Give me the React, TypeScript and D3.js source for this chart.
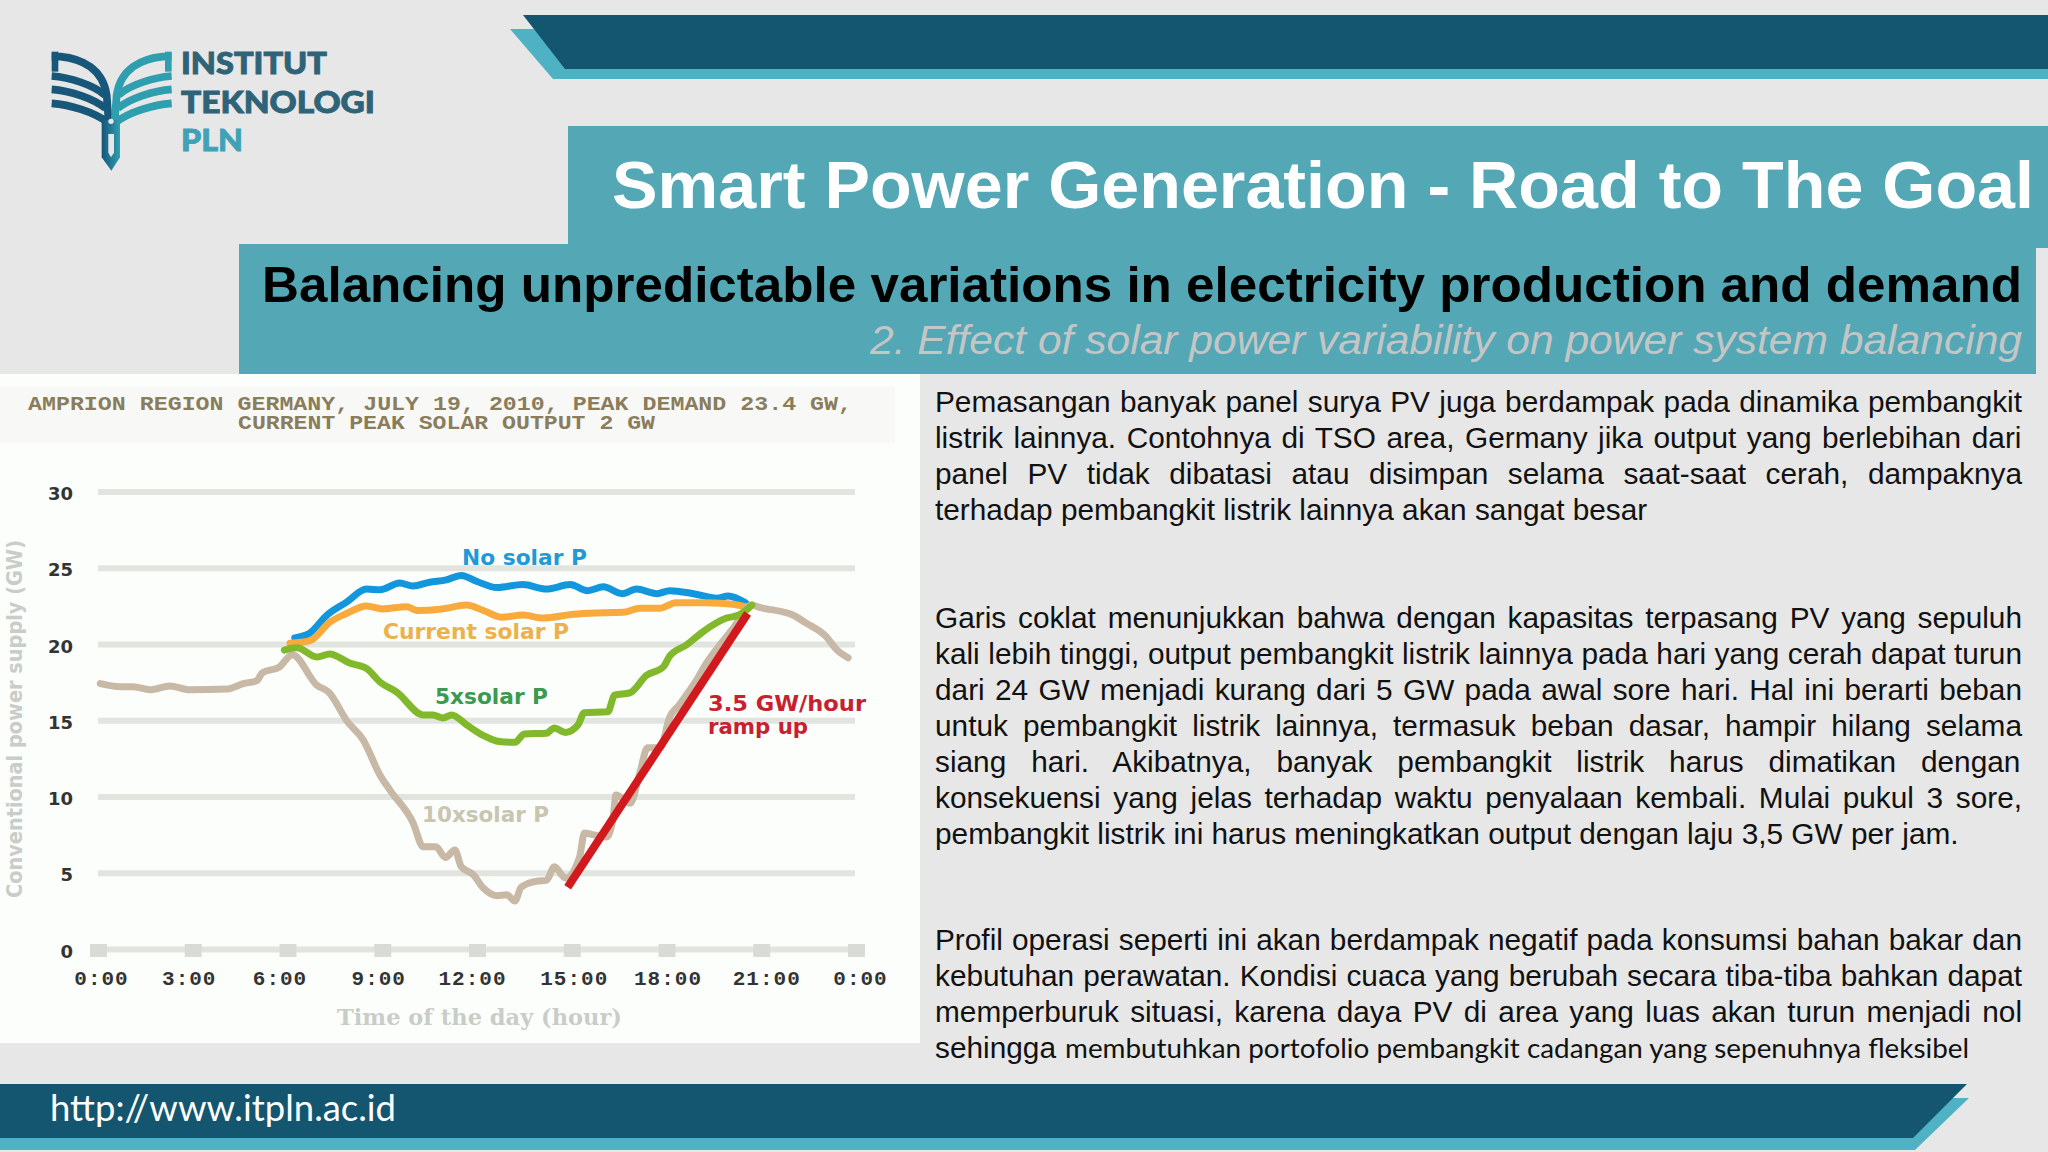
import { useEffect, useRef } from 'react';
import * as d3 from 'd3';

type Pt = [number, number]; // [hour of day, GW]

const yTicks = [0, 5, 10, 15, 20, 25, 30];
const xTickHours = [0, 3, 6, 9, 12, 15, 18, 21, 24];
const xTickLabels = ['0:00', '3:00', '6:00', '9:00', '12:00', '15:00', '18:00', '21:00', '0:00'];

const noSolar: Pt[] = [
  [6.23, 20.4], [6.7, 20.7], [7.25, 21.9], [7.87, 22.75], [8.5, 23.6], [8.93, 23.55], [9.55, 24.0],
  [9.97, 23.8], [10.5, 24.05], [11.03, 24.2], [11.5, 24.5], [12, 24.1], [12.63, 23.7], [13.45, 23.9],
  [14.2, 23.6], [14.95, 23.9], [15.5, 23.5], [16, 23.75], [16.6, 23.3], [17.05, 23.6], [17.7, 23.3],
  [18.1, 23.5], [18.85, 23.3], [19.6, 23.0], [19.95, 23.15], [20.5, 22.7],
];

const currentSolar: Pt[] = [
  [6.08, 20.05], [6.7, 20.2], [7.35, 21.45], [7.87, 22.0], [8.5, 22.5], [9, 22.3], [9.77, 22.45],
  [10.1, 22.2], [10.9, 22.3], [11.67, 22.55], [12.2, 22.2], [12.8, 21.75], [13.45, 21.9], [14.1, 21.7],
  [15.05, 21.95], [16, 22.05], [16.7, 22.1], [17.15, 22.35], [17.8, 22.35], [18.3, 22.7], [19.27, 22.7],
  [20.1, 22.6], [20.57, 22.4],
];

const fiveXSolar: Pt[] = [
  [5.9, 19.6], [6.3, 19.75], [6.93, 19.15], [7.34, 19.35], [7.97, 18.75], [8.5, 18.4], [8.93, 17.5],
  [9.46, 16.85], [10.3, 15.35], [10.6, 15.35], [10.93, 15.15], [11.2, 15.35], [11.67, 14.7], [12.2, 14.0],
  [12.7, 13.6], [13.2, 13.55], [13.5, 14.1], [14.2, 14.15], [14.45, 14.5], [14.8, 14.2], [15.2, 14.7],
  [15.4, 15.5], [16.14, 15.55], [16.36, 16.65], [16.84, 16.8], [17.37, 17.95], [17.9, 18.5], [18.1, 19.2],
  [18.64, 19.95], [19.15, 20.8], [19.9, 21.7], [20.3, 21.9], [20.7, 22.55],
];

const tenXSolar: Pt[] = [
  [0.07, 17.4], [0.7, 17.2], [1.1, 17.2], [1.65, 17.0], [2.28, 17.25], [2.9, 17.0], [4.1, 17.05],
  [4.6, 17.4], [5.03, 17.6], [5.2, 18.1], [5.75, 18.5], [6.15, 19.3], [6.93, 17.3], [7.3, 16.85],
  [7.9, 14.9], [8.4, 13.7], [8.93, 11.4], [9.25, 10.4], [9.97, 8.3], [10.3, 6.7], [10.7, 6.7], [11, 6.0],
  [11.3, 6.5], [11.5, 5.4], [11.87, 4.9], [12.2, 4.0], [12.63, 3.5], [12.95, 3.55], [13.2, 3.15],
  [13.4, 4.05], [13.9, 4.45], [14.2, 4.5], [14.45, 5.4], [14.8, 4.65], [15.25, 6.05], [15.4, 7.6],
  [15.65, 7.5], [16.1, 7.35], [16.3, 8.45], [16.4, 10.1], [16.85, 9.55], [17.15, 11.5], [17.4, 13.2],
  [17.8, 13.2], [18.1, 15.2], [18.4, 16], [19, 17.8], [19.25, 18.7], [19.6, 19.7], [20.1, 21], [20.7, 22.55],
  [20.95, 22.4], [22, 21.9], [22.4, 21.4], [23.05, 20.5], [23.4, 19.6], [23.75, 19.1],
];

const rampUp: Pt[] = [[14.87, 4.05], [20.57, 22]];

const para1 = [
  'Pemasangan banyak panel surya PV juga berdampak pada dinamika pembangkit',
  'listrik lainnya. Contohnya di TSO area, Germany jika output yang berlebihan dari',
  'panel PV tidak dibatasi atau disimpan selama saat-saat cerah, dampaknya',
  'terhadap pembangkit listrik lainnya akan sangat besar',
];
const para2 = [
  'Garis coklat menunjukkan bahwa dengan kapasitas terpasang PV yang sepuluh',
  'kali lebih tinggi, output pembangkit listrik lainnya pada hari yang cerah dapat turun',
  'dari 24 GW menjadi kurang dari 5 GW pada awal sore hari. Hal ini berarti beban',
  'untuk pembangkit listrik lainnya, termasuk beban dasar, hampir hilang selama',
  'siang hari. Akibatnya, banyak pembangkit listrik harus dimatikan dengan',
  'konsekuensi yang jelas terhadap waktu penyalaan kembali. Mulai pukul 3 sore,',
  'pembangkit listrik ini harus meningkatkan output dengan laju 3,5 GW per jam.',
];
const para3 = [
  'Profil operasi seperti ini akan berdampak negatif pada konsumsi bahan bakar dan',
  'kebutuhan perawatan. Kondisi cuaca yang berubah secara tiba-tiba bahkan dapat',
  'memperburuk situasi, karena daya PV di area yang luas akan turun menjadi nol',
];

const DARK = '#14556f';
const LIGHT = '#4fb2c4';
const TEAL = '#54a7b5';
const BODY_FONT = '"Liberation Sans", Arial, sans-serif';
const BODY_SIZE = 29.8;
const SLAB = '"DejaVu Serif", serif';
const BOLD_SANS = '"DejaVu Sans", sans-serif';
const MONO = '"Liberation Mono", monospace';

// justify a line by stretching only its word gaps, like the slide does
const ctx = document.createElement('canvas').getContext('2d')!;
function gapFor(line: string, width: number) {
  ctx.font = `${BODY_SIZE}px "Liberation Sans"`;
  const natural = ctx.measureText(line).width;
  const gaps = line.split(' ').length - 1;
  return (width - natural) / gaps;
}

function BodyLines({ lines, y0, lastFlush }: { lines: string[]; y0: number; lastFlush: boolean }) {
  return (
    <g fontFamily={BODY_FONT} fontSize={BODY_SIZE} fill="#111">
      {lines.map((line, i) => {
        const justify = lastFlush || i < lines.length - 1;
        return (
          <text key={i} x={935} y={y0 + i * 36} wordSpacing={justify ? gapFor(line, 1087) : 0}>
            {line}
          </text>
        );
      })}
    </g>
  );
}

function Wing({ color, flip }: { color: string; flip: boolean }) {
  const ribs = [
    'M35 50 L62 50 C125 56 188 86 200 165 L206 245',
    'M35 108 C90 112 160 135 195 165',
    'M35 148 C90 152 160 175 197 205',
    'M35 190 C90 194 160 215 205 248',
  ];
  return (
    <g stroke={color} fill="none" strokeWidth={23} transform={flip ? 'translate(430,0) scale(-1,1)' : undefined}>
      {ribs.map((d) => <path key={d} d={d} />)}
      <path d="M45 35 L45 95" strokeWidth={20} />
    </g>
  );
}

function Logo() {
  return (
    <g transform="translate(40,40) scale(0.3333)">
      <defs>
        <linearGradient id="stem" x1="0" x2="1" y1="0" y2="0">
          <stop offset="0" stopColor="#16557a" />
          <stop offset="1" stopColor="#2f9fb0" />
        </linearGradient>
      </defs>
      <Wing color="#17587a" flip={false} />
      <Wing color="#2f9fb0" flip={true} />
      <path d="M185 240 L240 240 L240 352 L214 392 L185 352 Z" fill="url(#stem)" />
      <path d="M205 282 L222 282 L222 338 L213 352 L205 338 Z" fill="#e7e7e7" />
      <circle cx={213} cy={244} r={8} fill="#e7e7e7" />
    </g>
  );
}

function Chart() {
  const ref = useRef<SVGGElement>(null);

  useEffect(() => {
    if (!ref.current) return;
    const g = d3.select(ref.current);
    g.selectAll('*').remove();

    const x = d3.scaleLinear().domain([0, 24]).range([98, 856]);
    const y = d3.scaleLinear().domain([0, 30]).range([949, 491.5]);

    // Gridlines and y tick labels
    const yAxis = g
      .append('g')
      .attr('transform', 'translate(98,0)')
      .call(d3.axisLeft(y).tickValues(yTicks).tickSize(-757).tickPadding(25));
    yAxis.select('.domain').remove();
    yAxis.selectAll('line').attr('stroke', '#e2e4e0').attr('stroke-width', 6);
    yAxis
      .selectAll('text')
      .attr('fill', '#333')
      .attr('font-family', BOLD_SANS)
      .attr('font-weight', 'bold')
      .attr('font-size', 18)
      .attr('dy', 8);

    // Square tick marks on the baseline
    g.selectAll('.tick-square')
      .data(xTickHours)
      .enter()
      .append('rect')
      .attr('class', 'tick-square')
      .attr('x', (d) => x(d) - 8)
      .attr('y', y(0) - 5)
      .attr('width', 17)
      .attr('height', 13)
      .attr('fill', '#d9dbd7');

    // X tick labels, the source image has them slightly off the ticks
    const nudge = [3, -4, -8, -4, -5, 2, 1, 5, 4];
    const xAxis = g
      .append('g')
      .attr('transform', 'translate(0,985)')
      .call(
        d3
          .axisBottom(x)
          .tickValues(xTickHours)
          .tickSize(0)
          .tickPadding(0)
          .tickFormat((d) => xTickLabels[xTickHours.indexOf(d as number)])
      );
    xAxis.select('.domain').remove();
    xAxis
      .selectAll('text')
      .attr('fill', '#333')
      .attr('font-family', MONO)
      .attr('font-weight', 'bold')
      .attr('font-size', 21)
      .attr('letter-spacing', 1)
      .attr('y', 0)
      .attr('dy', 0)
      .attr('dx', (_, i) => nudge[i]);

    const line = d3
      .line<Pt>()
      .x((d) => x(d[0]))
      .y((d) => y(d[1]))
      .curve(d3.curveMonotoneX);

    // Series, back to front
    const series: [Pt[], string, number][] = [
      [noSolar, '#1296dc', 7],
      [currentSolar, '#f8ab3c', 7],
      [tenXSolar, '#c8b8a6', 7],
      [fiveXSolar, '#82b82c', 7],
    ];
    series.forEach(([pts, color, w]) => {
      g.append('path')
        .datum(pts)
        .attr('d', line)
        .attr('fill', 'none')
        .attr('stroke', color)
        .attr('stroke-width', w)
        .attr('stroke-linejoin', 'round')
        .attr('stroke-linecap', 'round');
    });
    g.append('path')
      .datum(rampUp)
      .attr('d', line)
      .attr('fill', 'none')
      .attr('stroke', '#d2191e')
      .attr('stroke-width', 8);
  }, []);

  return (
    <g>
      <rect x={0} y={374} width={920} height={669} fill="#fcfefb" />
      <rect x={0} y={387} width={895} height={56} fill="#f8f9f6" />
      <g fontFamily={MONO} fontWeight="bold" fontSize={20} fill="#8a7d5c">
        <text x={28} y={410} textLength={824} lengthAdjust="spacingAndGlyphs">
          AMPRION REGION GERMANY, JULY 19, 2010, PEAK DEMAND 23.4 GW,
        </text>
        <text x={238} y={429} textLength={417} lengthAdjust="spacingAndGlyphs">
          CURRENT PEAK SOLAR OUTPUT 2 GW
        </text>
      </g>
      <g ref={ref} />
      <g fontFamily={BOLD_SANS} fontWeight="bold" fontSize={22}>
        <text x={462} y={565} fill="#1e9ad6" textLength={125} lengthAdjust="spacingAndGlyphs">No solar P</text>
        <text x={383} y={639} fill="#eeb04a" textLength={186} lengthAdjust="spacingAndGlyphs">Current solar P</text>
        <text x={435} y={704} fill="#3a9a50" textLength={113} lengthAdjust="spacingAndGlyphs">5xsolar P</text>
        <text x={422} y={822} fill="#c9c5b0" textLength={127} lengthAdjust="spacingAndGlyphs">10xsolar P</text>
        <text x={708} y={711} fill="#c8202e" textLength={158} lengthAdjust="spacingAndGlyphs">3.5 GW/hour</text>
        <text x={708} y={734} fill="#c8202e" textLength={100} lengthAdjust="spacingAndGlyphs">ramp up</text>
      </g>
      <g fontWeight="bold" fill="#c9cdc9">
        <text x={337} y={1025} fontFamily={SLAB} fontSize={22} textLength={285} lengthAdjust="spacingAndGlyphs">
          Time of the day (hour)
        </text>
        <text
          transform="translate(22,898) rotate(-90)"
          fontFamily={BOLD_SANS}
          fontSize={21}
          textLength={358}
          lengthAdjust="spacingAndGlyphs"
        >
          Conventional power supply (GW)
        </text>
      </g>
    </g>
  );
}

export default function App() {
  return (
    <svg
      width={2048}
      height={1152}
      viewBox="0 0 2048 1152"
      style={{ position: 'absolute', left: 0, top: 0, display: 'block' }}
    >
      <rect width={2048} height={1152} fill="#e7e7e7" />

      {/* Top ribbon */}
      <polygon points="510,29 2048,29 2048,79 553,79" fill={LIGHT} />
      <polygon points="523,15 2048,15 2048,69 565,69" fill={DARK} />

      {/* Title blocks */}
      <rect x={568} y={126} width={1480} height={122} fill={TEAL} />
      <rect x={239} y={244} width={1797} height={130} fill={TEAL} />
      <text
        x={612}
        y={208}
        fontFamily={BODY_FONT}
        fontWeight="bold"
        fontSize={66}
        fill="#fff"
        textLength={1422}
        lengthAdjust="spacingAndGlyphs"
      >
        Smart Power Generation - Road to The Goal
      </text>
      <text
        x={262}
        y={302}
        fontFamily={BODY_FONT}
        fontWeight="bold"
        fontSize={50}
        fill="#000"
        textLength={1760}
        lengthAdjust="spacingAndGlyphs"
      >
        Balancing unpredictable variations in electricity production and demand
      </text>
      <text
        x={870}
        y={354}
        fontFamily={BODY_FONT}
        fontStyle="italic"
        fontSize={41}
        fill="#c4c6c6"
        textLength={1152}
        lengthAdjust="spacingAndGlyphs"
      >
        2. Effect of solar power variability on power system balancing
      </text>

      {/* Logo */}
      <Logo />
      <g fontFamily="Lato, sans-serif" fontWeight="900" fontSize={31} strokeWidth={0.9}>
        <text x={181} y={74} fill="#2e6378" stroke="#2e6378" textLength={146} lengthAdjust="spacingAndGlyphs">INSTITUT</text>
        <text x={181} y={113} fill="#2e6378" stroke="#2e6378" textLength={194} lengthAdjust="spacingAndGlyphs">TEKNOLOGI</text>
        <text x={181} y={151} fill="#3fa2b6" stroke="#3fa2b6" textLength={62} lengthAdjust="spacingAndGlyphs">PLN</text>
      </g>

      <Chart />

      {/* Body copy */}
      <BodyLines lines={para1} y0={412} lastFlush={false} />
      <BodyLines lines={para2} y0={628} lastFlush={false} />
      <BodyLines lines={para3} y0={950} lastFlush={true} />
      <text x={935} y={1058} fontFamily={BODY_FONT} fontSize={BODY_SIZE} fill="#111">sehingga</text>
      <text
        x={1065}
        y={1058}
        fontFamily="Lato, sans-serif"
        fontSize={26}
        fill="#111"
        textLength={904}
        lengthAdjust="spacingAndGlyphs"
      >
        membutuhkan portofolio pembangkit cadangan yang sepenuhnya fleksibel
      </text>

      {/* Footer ribbon */}
      <polygon points="0,1098 1969,1098 1915,1150 0,1150" fill={LIGHT} />
      <polygon points="0,1084 1967,1084 1913,1138 0,1138" fill={DARK} />
      <text
        x={50}
        y={1121}
        fontFamily="Lato, sans-serif"
        fontSize={36}
        fill="#fff"
        textLength={346}
        lengthAdjust="spacingAndGlyphs"
      >
        http://www.itpln.ac.id
      </text>
    </svg>
  );
}
